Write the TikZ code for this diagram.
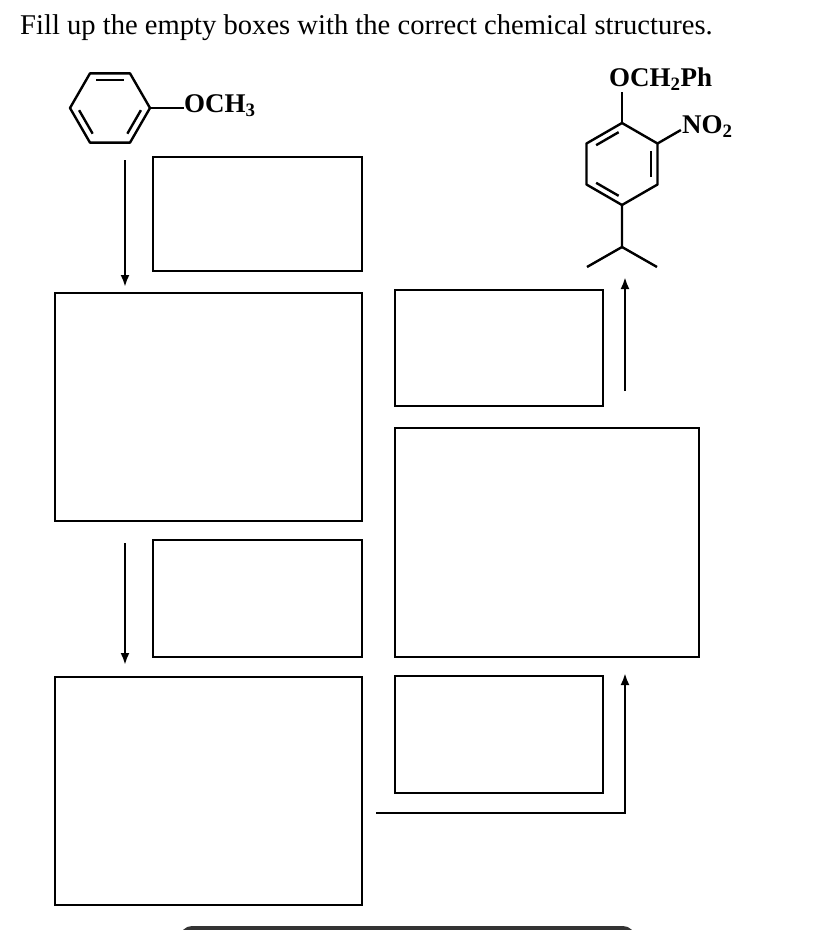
\documentclass[tikz,border=0pt]{standalone}
\usepackage{fontspec}
\usetikzlibrary{arrows.meta}
\setmainfont{Liberation Serif}
\begin{document}
\begin{tikzpicture}[x=1pt,y=-1pt,
  box/.style={draw,line width=2.5pt},
  arr/.style={draw,line width=2.5pt,-{Latex[length=12pt,width=9pt]}},
  bond/.style={line width=2.4pt,line join=round},
  chem/.style={font=\bfseries\fontsize{27}{27}\selectfont,inner sep=0pt}]
\useasboundingbox (0,0) rectangle (830,930);
\clip (0,0) rectangle (830,930);
\fill[white] (0,0) rectangle (830,930);
\node[anchor=west,inner sep=0pt,font=\fontsize{28.6}{30}\selectfont] (title) at (20,28) {Fill up the empty boxes with the correct chemical structures.};
% boxes
\node[box,minimum width=209,minimum height=114] (b1) at (257.5,214) {};
\node[box,minimum width=307,minimum height=228] (b2) at (208.5,407) {};
\node[box,minimum width=209,minimum height=117] (b3) at (257.5,598.5) {};
\node[box,minimum width=307,minimum height=228] (b4) at (208.5,791) {};
\node[box,minimum width=208,minimum height=116] (b5) at (499,348) {};
\node[box,minimum width=304,minimum height=229] (b6) at (547,542.5) {};
\node[box,minimum width=208,minimum height=117] (b7) at (499,734.5) {};
% arrows
\coordinate (a1s) at (125,160); \coordinate (a1e) at (125,287);
\coordinate (a2s) at (125,543); \coordinate (a2e) at (125,665);
\coordinate (a3s) at (625,391); \coordinate (a3e) at (625,277);
\coordinate (a4s) at (376,813); \coordinate (a4c) at (625,813); \coordinate (a4e) at (625,673);
\draw[arr] (a1s) -- (a1e);
\draw[arr] (a2s) -- (a2e);
\draw[arr] (a3s) -- (a3e);
\draw[arr] (a4s) -- (a4c) -- (a4e);
% anisole
\begin{scope}[shift={(110,108)}]
\draw[bond] (0:40) -- (60:40) -- (120:40) -- (180:40) -- (240:40) -- (300:40) -- cycle;
\draw[bond] (-64:31) -- (-116:31);
\draw[bond] (124:31) -- (176:31);
\draw[bond] (4:31) -- (56:31);
\draw[bond] (0:40) -- (74,0);
\end{scope}
\node[chem,anchor=west] (och3) at (184,106) {OCH\textsubscript{3}};
% target
\begin{scope}[shift={(622,164)}]
\draw[bond] (90:41) -- (30:41) -- (-30:41) -- (-90:41) -- (-150:41) -- (150:41) -- cycle;
\draw[bond] (-96:32) -- (-144:32);
\draw[bond] (-24:32) -- (24:32);
\draw[bond] (96:32) -- (144:32);
\draw[bond] (0,-41) -- (0,-72);
\draw[bond] (-30:41) -- ++(-30:27);
\draw[bond] (0,41) -- (0,83) -- (-35,103);
\draw[bond] (0,83) -- (35,103);
\end{scope}
\node[chem,anchor=west] (och2ph) at (609,79) {OCH\textsubscript{2}Ph};
\node[chem,anchor=west] (no2) at (682,127) {NO\textsubscript{2}};
\fill[black!80,rounded corners=12pt] (180,926) rectangle (635,960);
\end{tikzpicture}
\end{document}
